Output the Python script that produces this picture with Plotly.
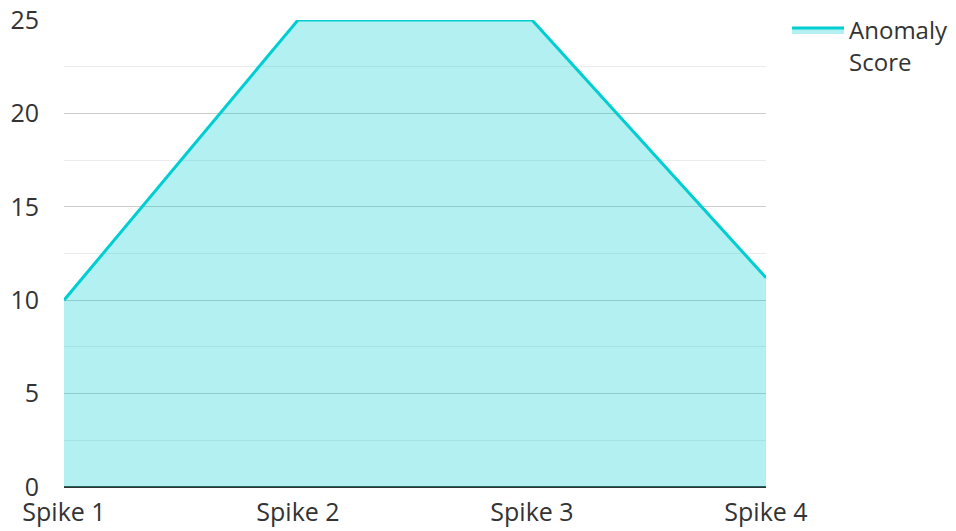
import plotly.graph_objects as go

categories = ["Spike 1", "Spike 2", "Spike 3", "Spike 4"]
anomaly_score = [10, 25, 25, 11.2]
y_ticks = [0, 5, 10, 15, 20, 25]

fig = go.Figure()
fig.add_trace(go.Scatter(
    x=categories, y=anomaly_score, name="Anomaly<br>Score",
    mode="lines", fill="tozeroy",
    line=dict(color="#00CED1", width=3),
    fillcolor="rgba(0,206,209,0.3)",
))

font = dict(family="Open Sans, Noto Sans, sans-serif", size=25, color="#333333")
legend_font = dict(family="Open Sans, Noto Sans, sans-serif", size=24, color="#333333")
fig.update_layout(
    width=948, height=523,
    margin=dict(l=56, r=190, t=12, b=44, autoexpand=False),
    paper_bgcolor="white", plot_bgcolor="white",
    font=font,
    showlegend=True,
    legend=dict(x=1.03, y=1.026, xanchor="left", yanchor="top", valign="top",
                font=legend_font, bgcolor="rgba(0,0,0,0)", itemwidth=52),
    xaxis=dict(type="category", range=[0, 3], showgrid=False,
               zeroline=False, showline=False, ticks="", automargin=False,
               ticklabelstandoff=8, tickfont=font),
    yaxis=dict(range=[0, 25], tickvals=y_ticks, showgrid=True,
               gridcolor="#cccccc", gridwidth=1, automargin=False,
               minor=dict(dtick=2.5, showgrid=True, gridcolor="#ebebeb", gridwidth=1),
               zeroline=True, zerolinecolor="#333333", zerolinewidth=2,
               showline=False, ticks="", ticklabelstandoff=24,
               ticklabeloverflow="allow", tickfont=font),
)
fig.write_html("out.html")
